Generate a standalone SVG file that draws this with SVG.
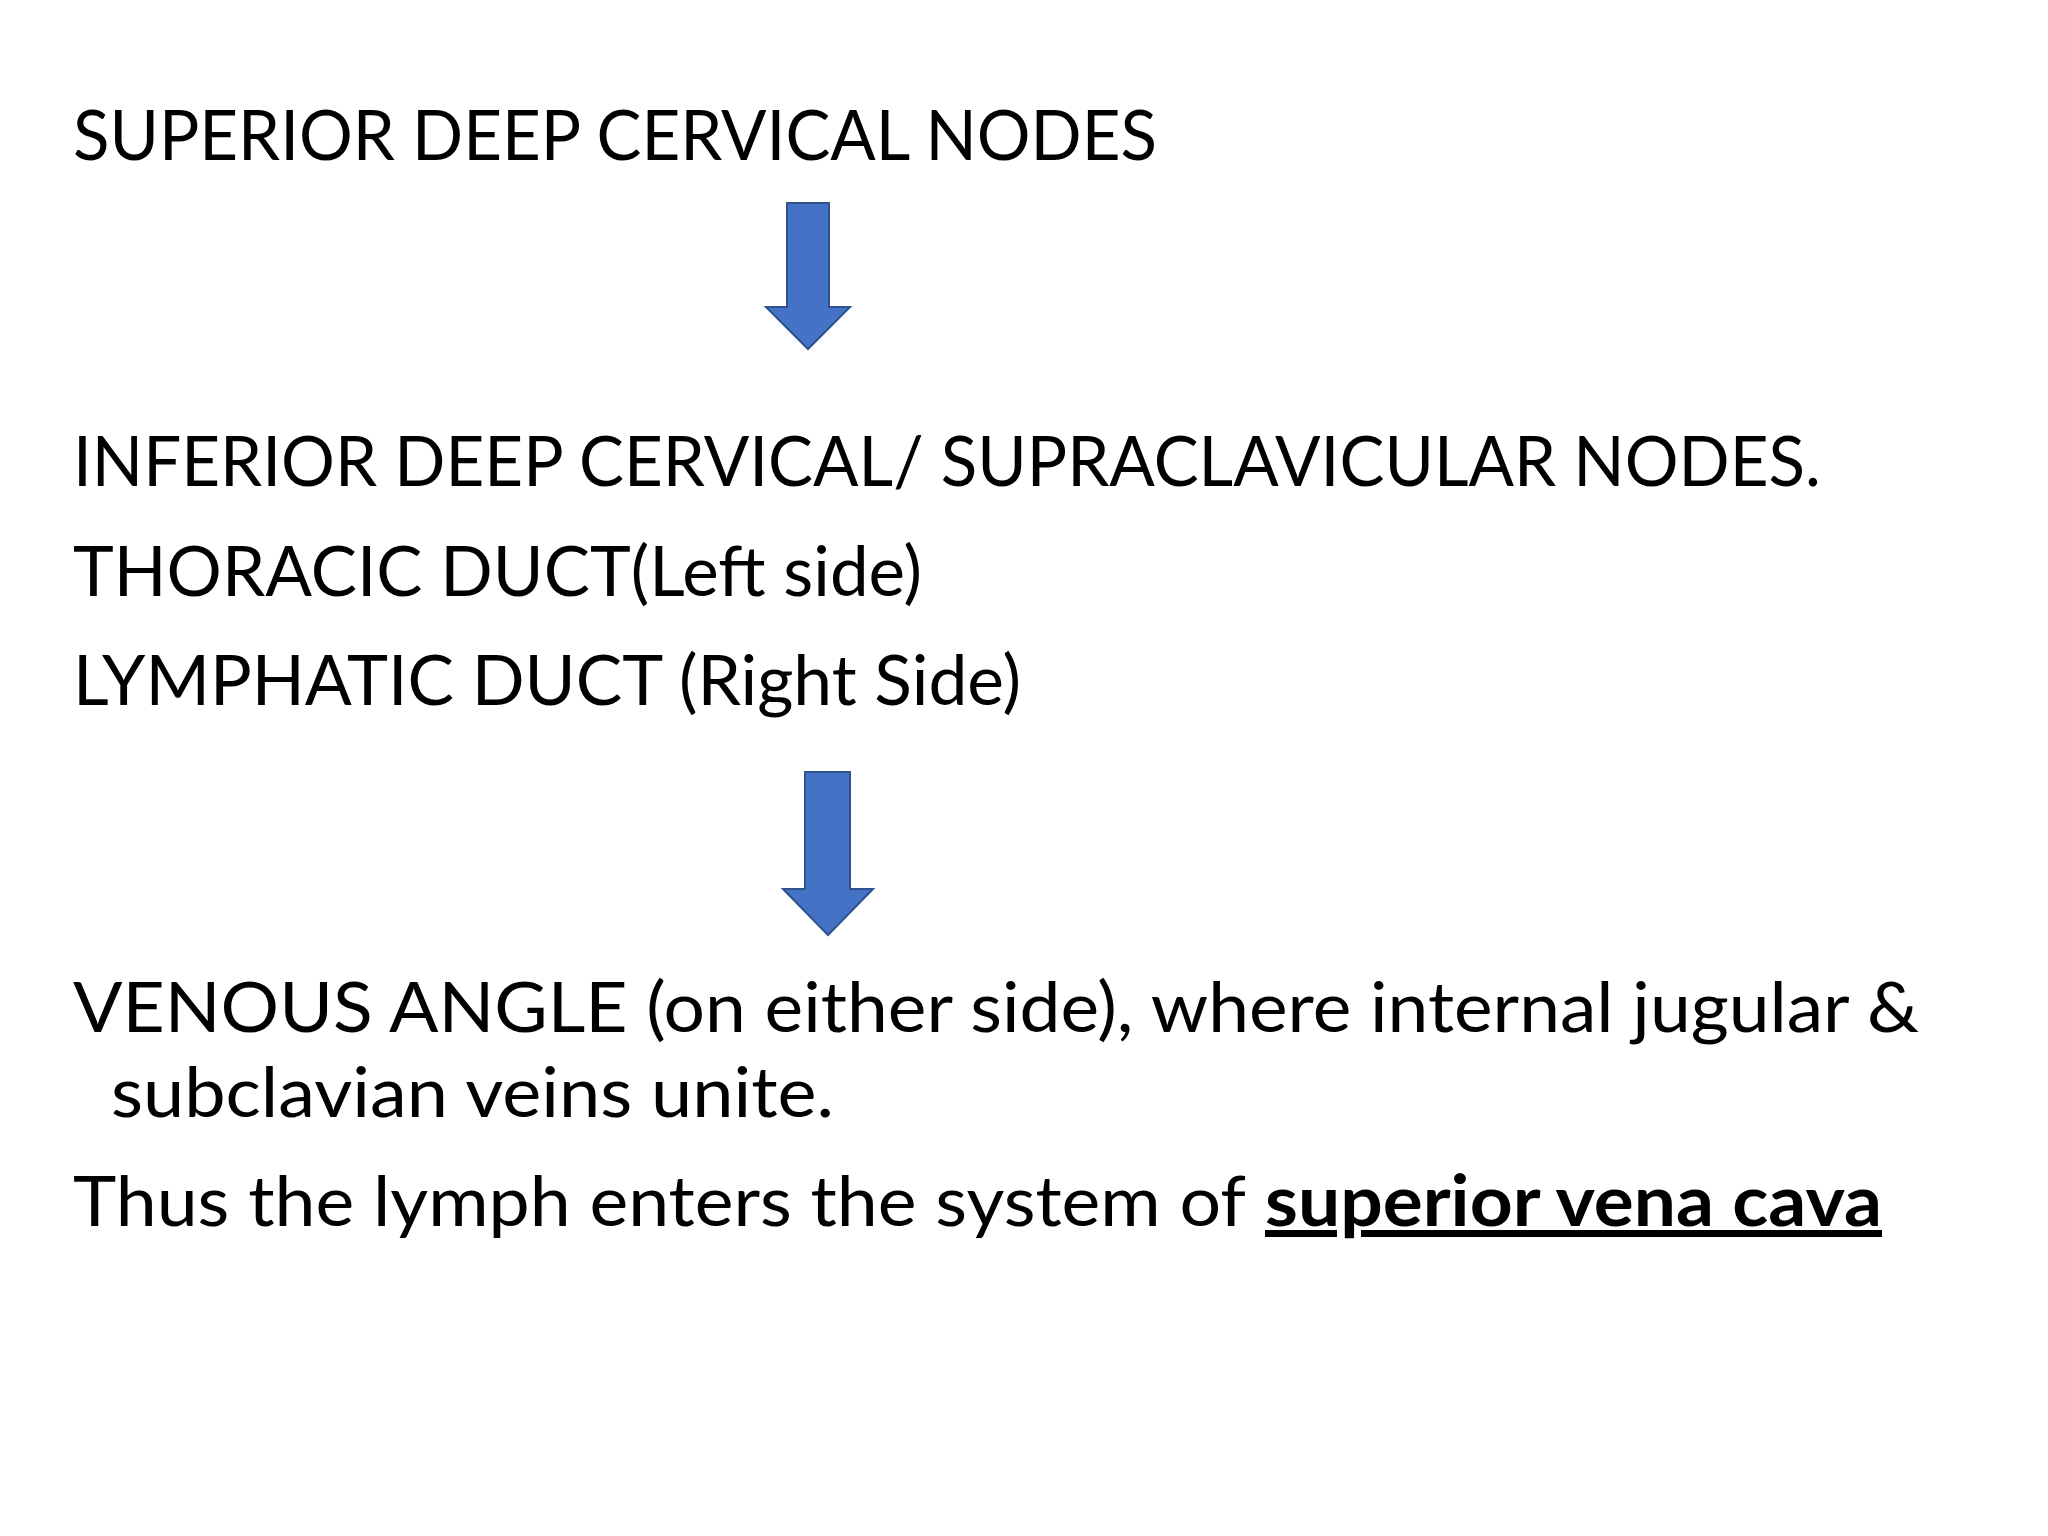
<svg xmlns="http://www.w3.org/2000/svg" width="2048" height="1536" viewBox="0 0 2048 1536">
<style>
  .t { font-family: Lato, "Open Sans", "Liberation Sans", sans-serif; font-size: 70px; fill: #000000; }
  .b { font-weight: bold; text-decoration: underline; }
  .arrow { fill: #4472C4; stroke: #2F528F; stroke-width: 2; stroke-linejoin: miter; }
</style>
<rect width="2048" height="1536" fill="#ffffff"/>
<g id="node-superior">
  <text class="t" x="73" y="160" textLength="1084" lengthAdjust="spacingAndGlyphs">SUPERIOR DEEP CERVICAL NODES</text>
</g>
<g id="node-inferior">
  <text class="t" x="73" y="486" textLength="1748" lengthAdjust="spacingAndGlyphs">INFERIOR DEEP CERVICAL/ SUPRACLAVICULAR NODES.</text>
  <text class="t" x="73" y="596" textLength="849" lengthAdjust="spacingAndGlyphs">THORACIC DUCT(Left side)</text>
  <text class="t" x="73" y="705" textLength="948" lengthAdjust="spacingAndGlyphs">LYMPHATIC DUCT (Right Side)</text>
</g>
<g id="node-venous">
  <text class="t" x="73" y="1032" textLength="1846" lengthAdjust="spacingAndGlyphs">VENOUS ANGLE (on either side), where internal jugular &amp;</text>
  <text class="t" x="111" y="1117" textLength="723" lengthAdjust="spacingAndGlyphs">subclavian veins unite.</text>
  <text class="t" x="73" y="1226" textLength="1173" lengthAdjust="spacingAndGlyphs">Thus the lymph enters the system of</text>
  <text class="t b" x="1265" y="1226" textLength="617" lengthAdjust="spacingAndGlyphs">superior vena cava</text>
</g>
<g id="connectors">
  <polygon class="arrow" points="787,203 829,203 829,307 850,307 808,349 766,307 787,307"/>
  <polygon class="arrow" points="805,772 850,772 850,889 873,889 828,935 783,889 805,889"/>
</g>
</svg>
